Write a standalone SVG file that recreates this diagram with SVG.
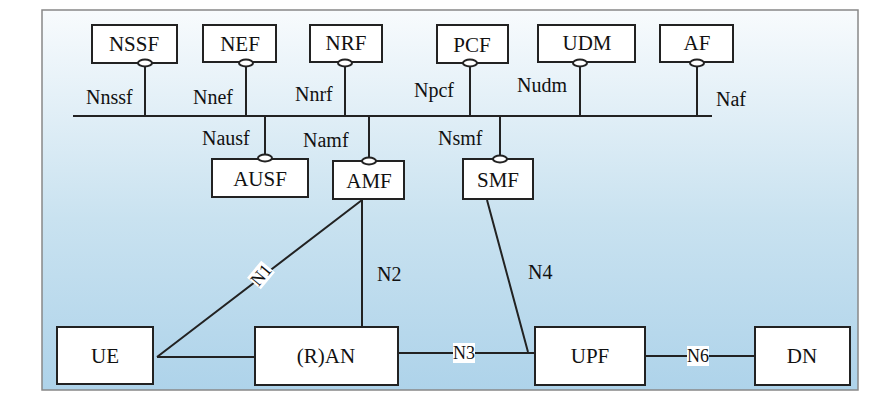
<svg xmlns="http://www.w3.org/2000/svg" width="870" height="414" viewBox="0 0 870 414" font-family="'Liberation Serif', 'Times New Roman', 'DejaVu Serif', serif">
<defs>
<linearGradient id="bg" x1="0" y1="0" x2="0" y2="1">
<stop offset="0" stop-color="#f8fbfd"/><stop offset="0.55" stop-color="#c9e2f0"/><stop offset="1" stop-color="#aed3ea"/>
</linearGradient>
</defs>
<style>
.n{fill:#fff;stroke:#222;stroke-width:2}
.t{font-size:21px;fill:#111;text-anchor:middle;dominant-baseline:central}
.l{font-size:20px;fill:#111}
.c{stroke:#222;stroke-width:2;fill:none}
.o{fill:#fff;stroke:#222;stroke-width:2}
.lb{fill:#fff}
</style>
<rect width="870" height="414" fill="#fff"/>
<rect x="42" y="10" width="816" height="380" fill="url(#bg)" stroke="#888" stroke-width="1.5"/>
<g id="connectors">
<path class="c" d="M73 116H712M145 63V116M246 63V116M345 63V116M470 63V116M580 63V116M697 63V116M265 116V157M369 116V160M500 116V158"/>
<path class="c" d="M157 357L362 200M157 357H255M362 200V327M398 353H535M487 200L528 352M645 356H755"/>
<g class="l">
<text x="86" y="104">Nnssf</text><text x="193" y="104">Nnef</text><text x="295" y="101">Nnrf</text><text x="414" y="97">Npcf</text><text x="517" y="92">Nudm</text><text x="716" y="106">Naf</text>
<text x="202" y="145">Nausf</text><text x="303" y="147">Namf</text><text x="438" y="145">Nsmf</text>
<text x="377" y="281">N2</text><text x="528" y="279">N4</text>
</g>
<g transform="translate(261,275) rotate(-50)"><rect class="lb" x="-11" y="-9" width="22" height="18"/><text class="t" style="font-size:18px">N1</text></g>
<rect class="lb" x="453" y="343" width="22" height="20"/><text class="t" x="464" y="353" style="font-size:18px">N3</text>
<rect class="lb" x="687" y="346" width="22" height="20"/><text class="t" x="698" y="356" style="font-size:18px">N6</text>
</g>
<g id="NSSF"><rect class="n" x="92" y="25" width="85" height="38"/><text class="t" x="134" y="44">NSSF</text><ellipse class="o" cx="145" cy="63" rx="7" ry="3.5"/></g>
<g id="NEF"><rect class="n" x="203" y="25" width="73" height="37"/><text class="t" x="240" y="44">NEF</text><ellipse class="o" cx="246" cy="63" rx="7" ry="3.5"/></g>
<g id="NRF"><rect class="n" x="310" y="25" width="72" height="37"/><text class="t" x="346" y="43">NRF</text><ellipse class="o" cx="345" cy="63" rx="7" ry="3.5"/></g>
<g id="PCF"><rect class="n" x="437" y="25" width="71" height="38"/><text class="t" x="472" y="45">PCF</text><ellipse class="o" cx="470" cy="63" rx="7" ry="3.5"/></g>
<g id="UDM"><rect class="n" x="538" y="25" width="97" height="37"/><text class="t" x="587" y="43">UDM</text><ellipse class="o" cx="580" cy="63" rx="7" ry="3.5"/></g>
<g id="AF"><rect class="n" x="660" y="25" width="73" height="37"/><text class="t" x="697" y="43">AF</text><ellipse class="o" cx="697" cy="63" rx="7" ry="3.5"/></g>
<g id="AUSF"><rect class="n" x="212" y="159" width="96" height="38"/><text class="t" x="260" y="179">AUSF</text><ellipse class="o" cx="265" cy="158" rx="7" ry="3.5"/></g>
<g id="AMF"><rect class="n" x="333" y="161" width="71" height="38"/><text class="t" x="369" y="181">AMF</text><ellipse class="o" cx="369" cy="161" rx="7" ry="3.5"/></g>
<g id="SMF"><rect class="n" x="463" y="159" width="70" height="40"/><text class="t" x="498" y="180">SMF</text><ellipse class="o" cx="500" cy="159" rx="7" ry="3.5"/></g>
<g id="UE"><rect class="n" x="57" y="327" width="96" height="57"/><text class="t" x="105" y="356">UE</text></g>
<g id="RAN"><rect class="n" x="255" y="327" width="143" height="58"/><text class="t" x="326" y="356">(R)AN</text></g>
<g id="UPF"><rect class="n" x="535" y="327" width="110" height="58"/><text class="t" x="590" y="356">UPF</text></g>
<g id="DN"><rect class="n" x="755" y="327" width="95" height="58"/><text class="t" x="802" y="356">DN</text></g>
</svg>
